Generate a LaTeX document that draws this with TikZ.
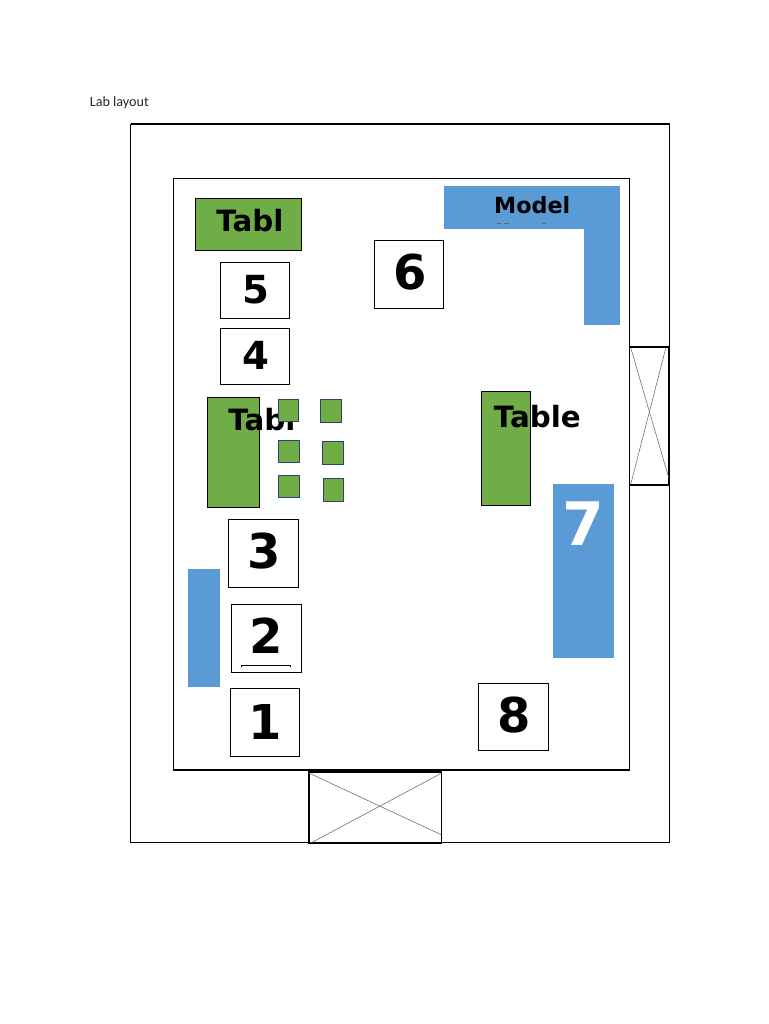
\documentclass[tikz,border=0pt]{standalone}
\usepackage{fontspec}
\setmainfont{DejaVu Sans}
\newfontfamily\titlefont{Carlito}
\definecolor{labblue}{HTML}{5B9BD5}
\definecolor{labgreen}{HTML}{70AD47}
\definecolor{seatedge}{HTML}{2F4468}
\tikzset{
  room/.style={draw=black,line width=0.6pt},
  station/.style={draw=black,fill=white,line width=0.5pt},
  bench/.style={draw=black,fill=labgreen,line width=0.5pt},
  cabinet/.style={fill=labblue},
  seat/.style={draw=seatedge,fill=labgreen,line width=0.7pt},
  door/.style={draw=black,line width=1.3pt},
  doorline/.style={draw=black!60,line width=0.4pt},
  bigno/.style={font=\fontsize{36}{36}\selectfont\bfseries,inner sep=0pt},
  smallno/.style={font=\fontsize{29}{29}\selectfont\bfseries,inner sep=0pt},
  benchlabel/.style={font=\fontsize{22}{23}\selectfont\bfseries,inner sep=0pt}
}
\begin{document}
\begin{tikzpicture}[x=0.75pt,y=-0.75pt]
\useasboundingbox (0,0) rectangle (768,1024);
\begin{scope}[shift={(-0.2,0)}]
\node[font=\titlefont\fontsize{10.6}{12}\selectfont,text=black!85,inner sep=0pt] (title) at (119.5,102.5) {Lab layout};

% walls
\draw[room] (131,124) rectangle (670,842);
\draw[line width=1pt] (131,124) -- (670,124);
\draw[room] (174,178.5) rectangle (630,770);
\draw[line width=1pt] (174,770) -- (630,770);

% doors
\fill[white] (309,772) rectangle (442,843);
\draw[door] (442,772) -- (309,772) -- (309,843) -- (442,843);
\draw[black,line width=0.6pt] (442,772) -- (442,843);
\draw[doorline] (309,773) -- (442,835);
\draw[doorline] (311,843) -- (442,773);
\fill[white] (630.5,347) rectangle (669,485);
\draw[door] (630,347) -- (669,347) -- (669,485) -- (630,485);
\draw[doorline] (631,348) -- (669,478);
\draw[doorline] (666,348) -- (631,484);

% cabinets
\fill[cabinet] (444.5,186) rectangle (620,229);
\fill[cabinet] (584,229) rectangle (620,325);
\fill[cabinet] (188.5,569) rectangle (220,687);
\fill[cabinet] (553.5,484) rectangle (614,658);
\node[font=\fontsize{16.7}{18}\selectfont\bfseries,inner sep=0pt] (model) at (532.5,205) {Model};
\draw[black!60,line width=0.6pt] (497,223.5) -- (501,223.5) (504,223.5) -- (509,223.5) (542,223.5) -- (546,223.5);
\node[font=\fontsize{45}{45}\selectfont\bfseries,text=white,inner sep=0pt] (seven) at (583.5,524) {7};

% benches
\draw[bench] (196,198) rectangle (302,250);
\node[benchlabel] (tabla) at (250,220.5) {Tabl};
\draw[bench] (208,397.5) rectangle (260,507.5);
\node[benchlabel] (tablb) at (262,420) {Tabl};
\draw[bench] (482,391) rectangle (531,505);
\node[benchlabel] (tablc) at (537.5,417) {Table};

% seats
\foreach \xa/\ya/\xb/\yb in {278.3/399.3/299/421.7,320.7/399.3/342/422.7,279/440/300/462,322.3/441/343.3/464,279/475/300/497.3,323.3/478.3/344/501}
  \draw[seat] (\xa,\ya) rectangle (\xb,\yb);

% stations
\draw[station] (221,262) rectangle (290,318);
\node[smallno] (s5) at (256,289.5) {5};
\draw[station] (221,328) rectangle (290,384);
\node[smallno] (s4) at (256,355.5) {4};
\draw[station] (375,240) rectangle (444,308);
\node[bigno] (s6) at (410,272.5) {6};
\draw[station] (229,519.5) rectangle (299,587);
\node[bigno] (s3) at (264.5,551.5) {3};
\draw[station] (232,604) rectangle (302,672);
\node[bigno] (s2) at (266.5,635.5) {2};
\draw[line width=0.4pt] (241.5,667) -- (241.5,665) -- (290.5,665) -- (290.5,667);
\draw[station] (231,688) rectangle (300,756);
\node[bigno] (s1) at (265.5,721.5) {1};
\draw[station] (479,683) rectangle (549,750);
\node[bigno] (s8) at (514.5,715.5) {8};
\end{scope}
\end{tikzpicture}
\end{document}
